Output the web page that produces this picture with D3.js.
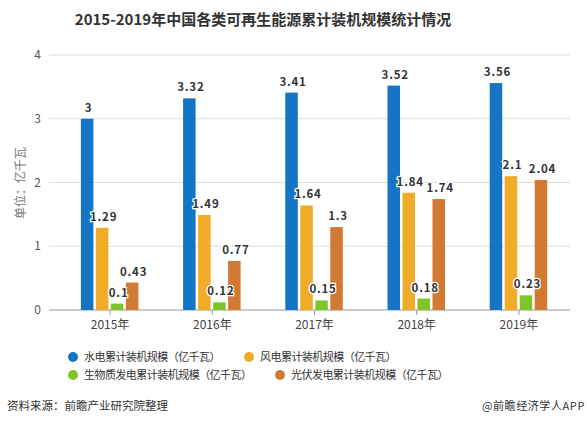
<!DOCTYPE html>
<html>
<head>
<meta charset="utf-8">
<script src="https://cdn.jsdelivr.net/npm/d3@7/dist/d3.min.js"></script>
<style>
  body { margin: 0; background: #fff; }
  svg { font-family: "Microsoft YaHei", "Noto Sans CJK SC", sans-serif; }
</style>
</head>
<body>
<div id="chart"></div>
<script>
// data
var years = ["2015年", "2016年", "2017年", "2018年", "2019年"];
var seriesNames = ["水电累计装机规模（亿千瓦）", "风电累计装机规模（亿千瓦）", "生物质发电累计装机规模（亿千瓦）", "光伏发电累计装机规模（亿千瓦）"];
var hydro = [3, 3.32, 3.41, 3.52, 3.56];
var wind = [1.29, 1.49, 1.64, 1.84, 2.1];
var biomass = [0.1, 0.12, 0.15, 0.18, 0.23];
var solar = [0.43, 0.77, 1.3, 1.74, 2.04];
var yTicks = [0, 1, 2, 3, 4];
var colors = ["#1575c5", "#f0ab28", "#7dc62a", "#d27a33"];

var series = [hydro, wind, biomass, solar];

var width = 587, height = 426;

var svg = d3.select("#chart").append("svg")
    .attr("width", width)
    .attr("height", height);

// title
svg.append("text")
    .attr("x", 263).attr("y", 25)
    .attr("text-anchor", "middle")
    .attr("font-size", 15).attr("font-weight", "bold")
    .attr("fill", "#333")
    .text("2015-2019年中国各类可再生能源累计装机规模统计情况");

// scales
var x = d3.scaleBand().domain(years).range([59, 570]);
var y = d3.scaleLinear().domain([0, 4]).range([310, 55]);

// gridlines
svg.append("g").selectAll("line")
    .data(yTicks.slice(1))
    .enter().append("line")
    .attr("x1", 49).attr("x2", 570)
    .attr("y1", function(d) { return y(d); })
    .attr("y2", function(d) { return y(d); })
    .attr("stroke", "#ddd");

// y axis labels
svg.append("g").selectAll("text")
    .data(yTicks)
    .enter().append("text")
    .attr("x", 41).attr("y", function(d) { return y(d) + 4; })
    .attr("text-anchor", "end")
    .attr("font-size", 12).attr("fill", "#555")
    .text(function(d) { return d; });

svg.append("text")
    .attr("transform", "translate(25,183) rotate(-90)")
    .attr("text-anchor", "middle")
    .attr("font-size", 12).attr("fill", "#777")
    .text("单位：亿千瓦");

// x axis
var xAxis = svg.append("g")
    .attr("transform", "translate(0,310)")
    .call(d3.axisBottom(x).tickSize(5).tickSizeOuter(0));
xAxis.select(".domain").remove();
xAxis.append("line").attr("x1", 49).attr("x2", 570).attr("stroke", "#999");
xAxis.selectAll(".tick line").attr("stroke", "#999");
xAxis.selectAll(".tick text")
    .attr("font-size", 12).attr("fill", "#444")
    .attr("dy", "0.9em")
    .attr("font-family", "\"Microsoft YaHei\", \"Noto Sans CJK SC\", sans-serif");

// bars
var barW = 12.5, step = 15;
function barX(i, si) { return x(years[i]) + x.bandwidth() / 2 - 29.2 + si * step; }

var barLayer = svg.append("g");
var labelLayer = svg.append("g");

series.forEach(function(vals, si) {
    barLayer.append("g")
        .attr("fill", colors[si])
        .selectAll("rect")
        .data(vals)
        .enter().append("rect")
        .attr("x", function(d, i) { return barX(i, si); })
        .attr("y", function(d) { return y(d); })
        .attr("width", barW)
        .attr("height", function(d) { return y(0) - y(d); });

    // labels above bars, drawn on top of all bars
    labelLayer.append("g")
        .selectAll("text")
        .data(vals)
        .enter().append("text")
        .attr("x", function(d, i) { return barX(i, si) + barW / 2 + 1.5; })
        .attr("y", function(d) { return y(d) - 7; })
        .attr("text-anchor", "middle")
        .attr("font-size", 11.5).attr("font-weight", "bold")
        .attr("letter-spacing", 0.8)
        .attr("fill", "#333")
        .attr("stroke", "#fff").attr("stroke-width", 2.5)
        .attr("paint-order", "stroke")
        .text(function(d) { return d; });
});

// legend
var legendPos = [[73, 357], [249, 357], [73, 375], [280, 375]];
var legend = svg.append("g").selectAll("g")
    .data(seriesNames)
    .enter().append("g")
    .attr("transform", function(d, i) { return "translate(" + legendPos[i][0] + "," + legendPos[i][1] + ")"; });
legend.append("circle").attr("r", 5).attr("fill", function(d, i) { return colors[i]; });
legend.append("text")
    .attr("x", 11).attr("y", 4)
    .attr("font-size", 11).attr("fill", "#333")
    .attr("textLength", function(d) { return d.length * 10.5; })
    .text(function(d) { return d; });

// footer
svg.append("text")
    .attr("x", 7).attr("y", 410)
    .attr("font-size", 11.5).attr("fill", "#333")
    .text("资料来源：前瞻产业研究院整理");
svg.append("text")
    .attr("x", 585).attr("y", 410)
    .attr("text-anchor", "end")
    .attr("font-size", 11).attr("fill", "#333")
    .attr("letter-spacing", 0.6)
    .text("@前瞻经济学人APP");
</script>
</body>
</html>
